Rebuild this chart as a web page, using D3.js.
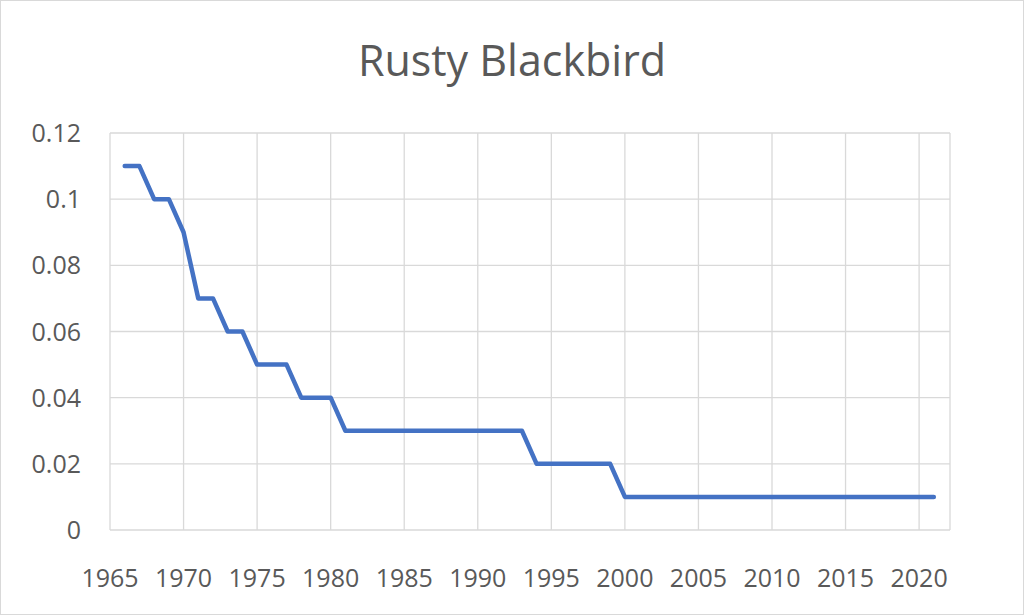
<!DOCTYPE html>
<html><head><meta charset="utf-8">
<script src="https://cdn.jsdelivr.net/npm/d3@7"></script>
<style>body{margin:0;background:#fff}svg{display:block}text{font-family:"Open Sans","Liberation Sans",sans-serif;fill:#595959}</style>
</head><body><div id="chart"></div>
<script>
var years = d3.range(1966, 2022);
var values = [0.11,0.11,0.10,0.10,0.09,0.07,0.07,0.06,0.06,0.05,0.05,0.05,0.04,0.04,0.04,
  0.03,0.03,0.03,0.03,0.03,0.03,0.03,0.03,0.03,0.03,0.03,0.03,0.03,
  0.02,0.02,0.02,0.02,0.02,0.02,
  0.01,0.01,0.01,0.01,0.01,0.01,0.01,0.01,0.01,0.01,0.01,0.01,0.01,0.01,0.01,0.01,0.01,0.01,0.01,0.01,0.01,0.01];
var xTicks = d3.range(1965, 2021, 5);
var yTicks = [0, 0.02, 0.04, 0.06, 0.08, 0.1, 0.12];
var data = years.map(function(y, i) { return {year: y, value: values[i]}; });

var W = 1024, H = 615;
var svg = d3.select("#chart").append("svg").attr("width", W).attr("height", H);
svg.append("rect").attr("x", 0.5).attr("y", 0.5).attr("width", W - 1).attr("height", H - 1)
  .attr("fill", "#fff").attr("stroke", "#d9d9d9");

var x = d3.scaleLinear().domain([1965, 2022.1]).range([110, 950]);
var y = d3.scaleLinear().domain([0, 0.12]).range([530, 133]);

svg.append("g").selectAll("line.h").data(yTicks).enter().append("line")
  .attr("x1", x(1965)).attr("x2", x(2022.1))
  .attr("y1", function(d) { return y(d); }).attr("y2", function(d) { return y(d); })
  .attr("stroke", "#d9d9d9").attr("stroke-width", 1.3);
svg.append("g").selectAll("line.v").data(xTicks.concat([2022.1])).enter().append("line")
  .attr("x1", function(d) { return x(d); }).attr("x2", function(d) { return x(d); })
  .attr("y1", y(0.12)).attr("y2", y(0))
  .attr("stroke", "#d9d9d9").attr("stroke-width", 1.3);

svg.append("g").selectAll("text").data(yTicks).enter().append("text")
  .attr("x", 81).attr("y", function(d) { return y(d) + 9; })
  .attr("text-anchor", "end").style("font-size", "25px")
  .text(function(d) { return d === 0 ? "0" : String(d); });
svg.append("g").selectAll("text").data(xTicks).enter().append("text")
  .attr("x", function(d) { return x(d); }).attr("y", 587)
  .attr("text-anchor", "middle").style("font-size", "25px")
  .text(function(d) { return d; });

svg.append("path").datum(data)
  .attr("d", d3.line().x(function(d) { return x(d.year); }).y(function(d) { return y(d.value); }))
  .attr("fill", "none").attr("stroke", "#4472c4").attr("stroke-width", 4.5)
  .attr("stroke-linejoin", "round").attr("stroke-linecap", "round");

svg.append("text").attr("x", 512).attr("y", 76).attr("text-anchor", "middle")
  .style("font-size", "43px").text("Rusty Blackbird");
</script></body></html>
